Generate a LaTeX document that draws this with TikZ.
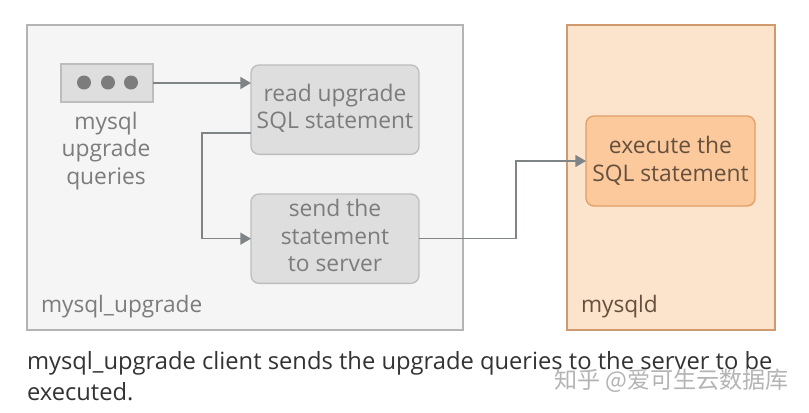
\documentclass[tikz,border=0pt]{standalone}
\usepackage{fontspec}
\setmainfont{Open Sans}
\newfontfamily\cjkwm{Noto Sans CJK SC}
\usetikzlibrary{arrows.meta}
\definecolor{panelgray}{HTML}{F5F5F5}
\definecolor{panelline}{HTML}{B4B4B4}
\definecolor{boxgray}{HTML}{DEDEDE}
\definecolor{boxline}{HTML}{BDBDBD}
\definecolor{textgray}{HTML}{7C7C7C}
\definecolor{dotgray}{HTML}{7C7C7C}
\definecolor{wire}{HTML}{7F8486}
\definecolor{panelorange}{HTML}{FCE3CC}
\definecolor{panelorangeline}{HTML}{CF9A6E}
\definecolor{boxorange}{HTML}{FBC99B}
\definecolor{boxorangeline}{HTML}{DE9F68}
\definecolor{textbrown}{HTML}{65503F}
\definecolor{captiontext}{HTML}{333333}
\definecolor{wmgray}{HTML}{B4B4B4}
\tikzset{
  every node/.style={outer sep=0pt},
  panel/.style={draw=panelline,fill=panelgray,line width=1.5pt,minimum width=327pt,minimum height=228.75pt,anchor=north west,inner sep=0pt},
  panelo/.style={draw=panelorangeline,fill=panelorange,line width=1.5pt,minimum width=156pt,minimum height=228.75pt,anchor=north west,inner sep=0pt},
  gbox/.style={draw=boxline,fill=boxgray,line width=1pt,rounded corners=6pt,minimum width=126pt,minimum height=67pt,anchor=north west,inner sep=0pt,align=center,text=textgray,font=\fontsize{17.1}{20.6}\selectfont},
  obox/.style={draw=boxorangeline,fill=boxorange,line width=1pt,rounded corners=6pt,minimum width=126.75pt,minimum height=67.5pt,anchor=north west,inner sep=0pt,align=center,text=textbrown,font=\fontsize{17.1}{20.6}\selectfont},
  iconbox/.style={draw=boxline,fill=boxgray,line width=1pt,minimum width=69pt,minimum height=28.5pt,anchor=north west,inner sep=0pt},
  lab/.style={text=textgray,font=\fontsize{17.1}{20.4}\selectfont,align=center,inner sep=0pt},
  dotc/.style={circle,fill=dotgray,minimum size=10.5pt,inner sep=0pt},
  wireline/.style={draw=wire,line width=1.1pt,-{Triangle[length=8pt,width=9pt]}},
}
\begin{document}
\begin{tikzpicture}[x=0.75pt,y=-0.75pt]
\useasboundingbox (0,0) rectangle (809,412);
\fill[white] (0,0) rectangle (809,412);
\node[panel] (left) at (27,25) {};
\node[panelo] (right) at (567,25) {};
\node[iconbox] (icon) at (61,64) {};
\node[dotc] (d1) at (84,82.5) {};
\node[dotc] (d2) at (108,82.5) {};
\node[dotc] (d3) at (131,82.5) {};
\node[lab] (q) at (106,151) {mysql\\upgrade\\queries};
\node[gbox] (read) at (251,65) {\raisebox{0.75pt}{\begin{tabular}{@{}c@{}}read upgrade\\SQL statement\end{tabular}}};
\node[gbox] (send) at (251,194) {\raisebox{1.25pt}{\begin{tabular}{@{}c@{}}send the\\statement\\to server\end{tabular}}};
\node[obox] (exec) at (586,116) {execute the\\SQL statement};
\node[text=textgray,font=\fontsize{17}{20}\selectfont,anchor=base west,inner sep=0pt] (lu) at (41,312) {mysql\_upgrade};
\node[text=textbrown,font=\fontsize{17}{20}\selectfont,anchor=base west,inner sep=0pt] (ld) at (581,312) {mysqld};
\coordinate (rout) at (251,133);
\coordinate (k1) at (202,133);
\coordinate (k3) at (516,239);
\draw[wireline] (icon.east) -- (read.west |- icon.east);
\draw[wireline] (rout) -- (k1) -- (k1 |- send.west) -- (send.west);
\draw[wireline] (send.east) -- (k3 |- send.east) -- (k3 |- exec.west) -- (exec.west);
\node[text=captiontext,font=\fontsize{17.8}{20}\selectfont,anchor=base west,inner sep=0pt] (c1) at (27,369) {mysql\_upgrade client sends the upgrade queries to the server to be};
\node[text=captiontext,font=\fontsize{17.8}{20}\selectfont,anchor=base west,inner sep=0pt] (c2) at (27,400) {executed.};
\node[text=wmgray,font=\cjkwm\fontsize{17.3}{20}\selectfont,anchor=base east,inner sep=0pt] (wm) at (789,388) {知乎 @爱可生云数据库};
\end{tikzpicture}
\end{document}
